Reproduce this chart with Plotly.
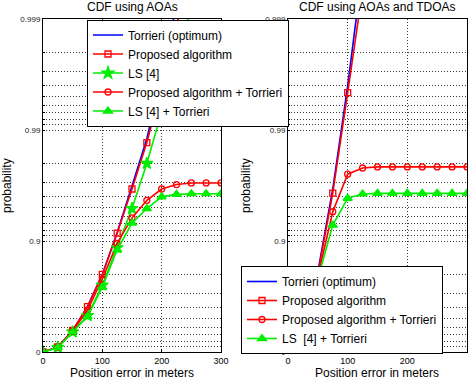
import plotly.graph_objects as go

# ---------------- data (probabilities) ----------------
x_err = [0, 25, 50, 75, 100, 125, 150, 175, 200, 225, 250, 275, 300]

# Left panel: CDF using AOAs
torr_L  = [0, 0.10, 0.36, 0.61, 0.80, 0.916, 0.968, 0.988, 0.9968, 0.99925, 0.9999]
prop_L  = [0, 0.10, 0.36, 0.61, 0.80, 0.915, 0.966, 0.987, 0.996, 0.9988, 0.9998]
ls_L    = [0, 0.09, 0.34, 0.53, 0.75, 0.885, 0.949, 0.980, 0.993, 0.9976, 0.9992, 0.9998]
propT_L = [0, 0.10, 0.35, 0.58, 0.78, 0.895, 0.938, 0.957, 0.966, 0.969, 0.970, 0.970, 0.970]
lsT_L   = [0, 0.09, 0.34, 0.52, 0.74, 0.88, 0.931, 0.949, 0.960, 0.962, 0.9625, 0.9625, 0.9625]

# Right panel: CDF using AOAs and TDOAs
torr_R  = [0, 0.27, 0.81, 0.966, 0.9960, 0.99965]
prop_R  = [0, 0.27, 0.80, 0.963, 0.9954, 0.99945]
propT_R = [0, 0.27, 0.79, 0.9455, 0.975, 0.978, 0.9785, 0.9785, 0.9785, 0.9785, 0.9785, 0.9785, 0.9785]
lsT_R   = [0, 0.27, 0.78, 0.928, 0.9588, 0.9623, 0.9628, 0.9628, 0.9628, 0.9628, 0.9628, 0.9628, 0.9628]

# probability-axis grid and labels
grid_p = [0, 0.1, 0.2, 0.3, 0.4, 0.5, 0.6, 0.7, 0.8, 0.9,
          0.91, 0.92, 0.93, 0.94, 0.95, 0.96, 0.97, 0.98, 0.99,
          0.991, 0.992, 0.993, 0.994, 0.995, 0.996, 0.997, 0.998, 0.999]
major_labels = {0: "0", 0.9: "0.9", 0.99: "0.99", 0.999: "0.999"}
x_ticks = [0, 100, 200, 300]

W, H = 474, 379
FONT = "Liberation Sans, Arial, Helvetica, sans-serif"
BLUE, RED, GREEN = "#0000ff", "#ff0000", "#00ee00"


def tail(p):
    # probability axis drawn as log scale of (1 - p)
    return [1 - v for v in p]


fig = go.Figure()

def add(xs, p, name, color, symbol, size, xa, ya, legend, mode="lines+markers", fill=True):
    fig.add_trace(go.Scatter(
        x=xs[:len(p)], y=tail(p), name=name, mode=mode,
        line=dict(color=color, width=1.6),
        marker=dict(symbol=symbol, size=size, color=color if fill else "white",
                    line=dict(color=color, width=1.3)),
        xaxis=xa, yaxis=ya, legend=legend))

# left panel
add(x_err, torr_L, "Torrieri (optimum)", BLUE, "circle", 1, "x", "y", "legend", mode="lines")
add(x_err, prop_L, "Proposed algorithm", RED, "square-open", 6, "x", "y", "legend")
add(x_err, ls_L, "LS [4]", GREEN, "star", 9, "x", "y", "legend")
add(x_err, propT_L, "Proposed algorithm + Torrieri", RED, "circle-open", 6, "x", "y", "legend")
add(x_err, lsT_L, "LS [4] + Torrieri", GREEN, "triangle-up", 8, "x", "y", "legend")

# right panel
add(x_err, torr_R, "Torrieri (optimum)", BLUE, "circle", 1, "x2", "y2", "legend2", mode="lines")
add(x_err, prop_R, "Proposed algorithm", RED, "square-open", 6, "x2", "y2", "legend2")
add(x_err, propT_R, "Proposed algorithm + Torrieri", RED, "circle-open", 6, "x2", "y2", "legend2")
add(x_err, lsT_R, "LS\u00a0 [4] + Torrieri", GREEN, "triangle-up", 8, "x2", "y2", "legend2")

ytickvals = [1 - p for p in grid_p]
yticktext = [major_labels.get(p, "") for p in grid_p]

ydom = [1 - 352 / H, 1 - 19 / H]
GRID = dict(showgrid=True, griddash="1px,2px", gridcolor="#3a3a3a", gridwidth=1)
common_x = dict(range=[0, 300], tickmode="array", tickvals=x_ticks, automargin=False,
                showline=True, mirror=True, linecolor="black", linewidth=1,
                ticks="inside", ticklen=3, tickcolor="black", zeroline=False,
                tickfont=dict(size=9, color="black", family=FONT), **GRID)
common_y = dict(type="log", range=[0, -3], tickmode="array", tickvals=ytickvals,
                ticktext=yticktext, domain=ydom, automargin=False,
                showline=True, mirror=True, linecolor="black", linewidth=1,
                ticks="inside", ticklen=2, tickcolor="black", zeroline=False,
                tickfont=dict(size=8, color="#222", family=FONT), **GRID)

fig.update_layout(
    width=W, height=H,
    margin=dict(l=0, r=0, t=0, b=0, autoexpand=False),
    paper_bgcolor="white", plot_bgcolor="white",
    font=dict(family=FONT, size=12, color="black"),
    xaxis=dict(domain=[43 / W, 221 / W], anchor="y", **common_x),
    yaxis=dict(anchor="x", **common_y),
    xaxis2=dict(domain=[288 / W, 467 / W], anchor="y2", **common_x),
    yaxis2=dict(anchor="x2", **common_y),
    legend=dict(x=87 / W, y=1 - 73 / H, xanchor="left", yanchor="middle",
                bgcolor="white", bordercolor="black", borderwidth=1,
                font=dict(size=12, family=FONT, color="black"),
                tracegroupgap=0, itemwidth=30),
    legend2=dict(x=241 / W, y=1 - 310 / H, xanchor="left", yanchor="middle",
                 bgcolor="white", bordercolor="black", borderwidth=1,
                 font=dict(size=12, family=FONT, color="black"),
                 tracegroupgap=0, itemwidth=30),
    showlegend=True,
)

annots = [
    dict(text="CDF using AOAs", x=132 / W, y=1 - 7 / H),
    dict(text="CDF using AOAs and TDOAs", x=377 / W, y=1 - 7 / H),
    dict(text="Position error in meters", x=132 / W, y=1 - 372.5 / H),
    dict(text="Position error in meters", x=377 / W, y=1 - 372.5 / H),
    dict(text="probability", x=7 / W, y=1 - 186 / H, textangle=-90),
    dict(text="probability", x=246 / W, y=1 - 186 / H, textangle=-90),
]
for a in annots:
    fig.add_annotation(xref="paper", yref="paper", xanchor="center", yanchor="middle",
                       showarrow=False, font=dict(size=12, family=FONT, color="black"), **a)

fig.write_html("out.html", config={"displayModeBar": False},
               post_script="document.body.style.margin='0';document.body.style.overflow='hidden';")
